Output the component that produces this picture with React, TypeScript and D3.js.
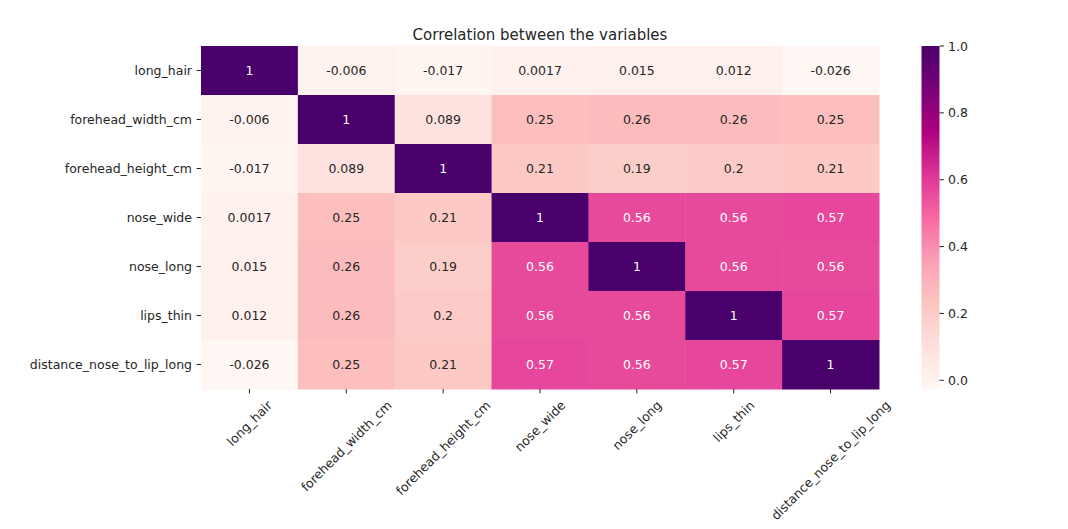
import React, { useEffect, useRef } from "react";
import * as d3 from "d3";

const variables = [
  "long_hair",
  "forehead_width_cm",
  "forehead_height_cm",
  "nose_wide",
  "nose_long",
  "lips_thin",
  "distance_nose_to_lip_long",
];

const longHair = [1, -0.006, -0.017, 0.0017, 0.015, 0.012, -0.026];
const foreheadWidth = [-0.006, 1, 0.089, 0.25, 0.26, 0.26, 0.25];
const foreheadHeight = [-0.017, 0.089, 1, 0.21, 0.19, 0.2, 0.21];
const noseWide = [0.0017, 0.25, 0.21, 1, 0.56, 0.56, 0.57];
const noseLong = [0.015, 0.26, 0.19, 0.56, 1, 0.56, 0.56];
const lipsThin = [0.012, 0.26, 0.2, 0.56, 0.56, 1, 0.57];
const distanceNoseToLip = [-0.026, 0.25, 0.21, 0.57, 0.56, 0.57, 1];

const matrix = [longHair, foreheadWidth, foreheadHeight, noseWide, noseLong, lipsThin, distanceNoseToLip];

const colorbarTicks = [0, 0.2, 0.4, 0.6, 0.8, 1.0];
const title = "Correlation between the variables";

const rdpu = ["#fff7f3", "#fde0dd", "#fcc5c0", "#fa9fb5", "#f768a1", "#dd3497", "#ae017e", "#7a0177", "#49006a"];

const W = 1068;
const H = 529;
const left = 201;
const right = 879;
const top = 46;
const bottom = 389;
const cbLeft = 921.5;
const cbRight = 939.5;
const FONT = "'DejaVu Sans', sans-serif";
const FS = 12.5;
const TEXT = "#262626";

export default function App() {
  const ref = useRef<SVGSVGElement>(null);

  useEffect(() => {
    const svg = d3.select(ref.current);
    svg.selectAll("*").remove();

    const all = matrix.flat();
    const vmin = d3.min(all) as number;
    const vmax = d3.max(all) as number;

    const cmap = d3
      .scaleLinear<string>()
      .domain(d3.range(rdpu.length).map((i) => vmin + ((vmax - vmin) * i) / (rdpu.length - 1)))
      .range(rdpu)
      .interpolate(d3.interpolateRgb)
      .clamp(true);

    const x = d3.scaleBand().domain(variables).range([left, right]);
    const y = d3.scaleBand().domain(variables).range([top, bottom]);

    const locale = d3.formatLocale({ decimal: ".", thousands: ",", grouping: [3], currency: ["$", ""], minus: "-" });
    const fmt = locale.format(".2~g");

    const lum = (c: string) => {
      const rgb = d3.rgb(c);
      const f = (v: number) => {
        const s = v / 255;
        return s <= 0.03928 ? s / 12.92 : Math.pow((s + 0.055) / 1.055, 2.4);
      };
      return 0.2126 * f(rgb.r) + 0.7152 * f(rgb.g) + 0.0722 * f(rgb.b);
    };

    const cells: { r: number; c: number; v: number }[] = [];
    matrix.forEach((row, r) => row.forEach((v, c) => cells.push({ r, c, v })));

    const g = svg.append("g");
    g.selectAll("rect.cell")
      .data(cells)
      .enter()
      .append("rect")
      .attr("class", "cell")
      .attr("x", (d) => x(variables[d.c]) as number)
      .attr("y", (d) => y(variables[d.r]) as number)
      .attr("width", x.bandwidth() + 0.5)
      .attr("height", y.bandwidth() + 0.5)
      .attr("fill", (d) => cmap(d.v));

    g.selectAll("text.annot")
      .data(cells)
      .enter()
      .append("text")
      .attr("class", "annot")
      .attr("x", (d) => (x(variables[d.c]) as number) + x.bandwidth() / 2)
      .attr("y", (d) => (y(variables[d.r]) as number) + y.bandwidth() / 2)
      .attr("text-anchor", "middle")
      .attr("dominant-baseline", "central")
      .attr("font-family", FONT)
      .attr("font-size", FS)
      .attr("fill", (d) => (lum(cmap(d.v)) > 0.408 ? TEXT : "#ffffff"))
      .text((d) => fmt(d.v));

    // Y axis
    variables.forEach((v) => {
      const cy = (y(v) as number) + y.bandwidth() / 2;
      g.append("line")
        .attr("x1", left - 4.4)
        .attr("x2", left)
        .attr("y1", cy)
        .attr("y2", cy)
        .attr("stroke", TEXT)
        .attr("stroke-width", 1);
      g.append("text")
        .attr("x", left - 9)
        .attr("y", cy)
        .attr("text-anchor", "end")
        .attr("dominant-baseline", "central")
        .attr("font-family", FONT)
        .attr("font-size", FS)
        .attr("fill", TEXT)
        .text(v);
    });

    // X axis
    const labelTop = bottom + 4.4 + 4.4;
    const h = FS * 1.16;
    variables.forEach((v) => {
      const cx = (x(v) as number) + x.bandwidth() / 2;
      g.append("line")
        .attr("x1", cx)
        .attr("x2", cx)
        .attr("y1", bottom)
        .attr("y2", bottom + 4.4)
        .attr("stroke", TEXT)
        .attr("stroke-width", 1);
      const t = g
        .append("text")
        .attr("text-anchor", "middle")
        .attr("dominant-baseline", "central")
        .attr("font-family", FONT)
        .attr("font-size", FS)
        .attr("fill", TEXT)
        .text(v);
      const w = (t.node() as SVGTextElement).getComputedTextLength();
      const side = (w + h) / Math.SQRT2;
      const cy = labelTop + side / 2;
      t.attr("transform", `translate(${cx},${cy}) rotate(-45)`);
    });

    // Title
    g.append("text")
      .attr("x", (left + right) / 2)
      .attr("y", 40)
      .attr("text-anchor", "middle")
      .attr("font-family", FONT)
      .attr("font-size", 15)
      .attr("fill", TEXT)
      .text(title);

    // Colorbar
    const defs = svg.append("defs");
    const grad = defs
      .append("linearGradient")
      .attr("id", "cbgrad")
      .attr("x1", 0)
      .attr("y1", 1)
      .attr("x2", 0)
      .attr("y2", 0);
    rdpu.forEach((c, i) => {
      grad
        .append("stop")
        .attr("offset", i / (rdpu.length - 1))
        .attr("stop-color", c);
    });
    g.append("rect")
      .attr("x", cbLeft)
      .attr("y", top)
      .attr("width", cbRight - cbLeft)
      .attr("height", bottom - top)
      .attr("fill", "url(#cbgrad)");

    const cbScale = d3.scaleLinear().domain([vmin, vmax]).range([bottom, top]);
    const cbFmt = d3.format(".1f");
    colorbarTicks.forEach((tv) => {
      const ty = cbScale(tv);
      g.append("line")
        .attr("x1", cbRight)
        .attr("x2", cbRight + 4.4)
        .attr("y1", ty)
        .attr("y2", ty)
        .attr("stroke", TEXT)
        .attr("stroke-width", 1);
      g.append("text")
        .attr("x", cbRight + 8.5)
        .attr("y", ty)
        .attr("dominant-baseline", "central")
        .attr("font-family", FONT)
        .attr("font-size", FS)
        .attr("fill", TEXT)
        .text(cbFmt(tv));
    });
  }, []);

  return (
    <svg
      ref={ref}
      width={W}
      height={H}
      style={{ position: "absolute", left: 0, top: 0, background: "#ffffff" }}
    />
  );
}
